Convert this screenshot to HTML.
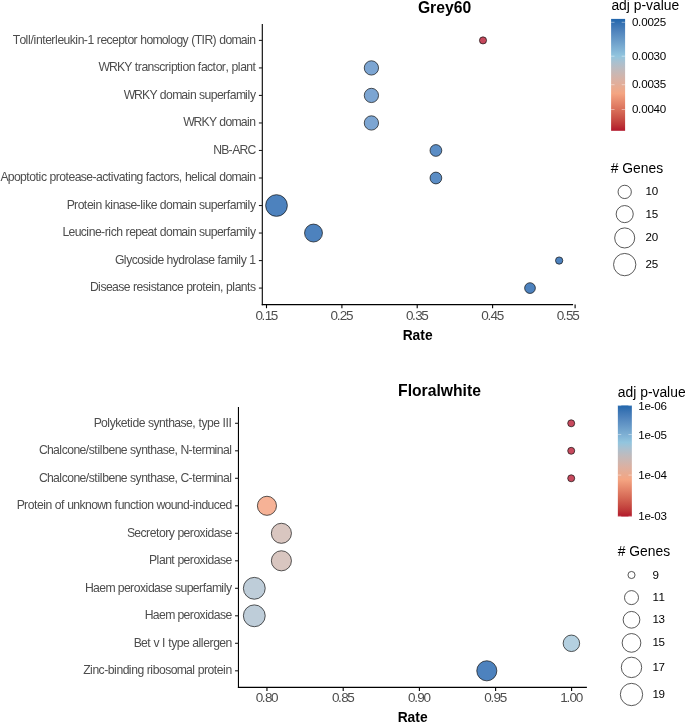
<!DOCTYPE html>
<html><head><meta charset="utf-8"><title>Enrichment dot plots</title>
<style>
html,body{margin:0;padding:0;background:#fff;}
svg{display:block;font-family:"Liberation Sans",sans-serif;}
</style></head><body>
<svg width="685" height="723" viewBox="0 0 685 723">
<rect width="685" height="723" fill="#fff"/>
<text x="417.88 430.09 436.20 444.93 453.66 462.39" y="12.6" font-size="15.7" font-weight="bold" fill="#000">Grey60</text>
<line x1="262.3" y1="24.0" x2="262.3" y2="305.150" stroke="#000" stroke-width="1.1"/>
<line x1="258.900" y1="40.4" x2="262.3" y2="40.4" stroke="#222" stroke-width="1.1"/>
<text x="12.74 19.48 25.61 28.07 30.52 33.58 36.03 42.17 45.23 51.36 55.04 57.49 63.62 69.76 75.27 77.72 83.86 87.53 93.66 96.73 100.40 106.54 112.05 118.19 124.32 127.38 133.52 137.19 140.26 146.39 152.52 161.71 167.85 170.30 176.43 182.57 188.08 191.15 194.82 201.56 204.62 212.59 216.26 219.32 225.46 231.59 240.78 246.92 249.37" y="43.6" font-size="12.2" fill="#4d4d4d">Toll/interleukin-1 receptor homology (TIR) domain</text>
<line x1="258.900" y1="67.92" x2="262.3" y2="67.92" stroke="#222" stroke-width="1.1"/>
<text x="98.57 108.98 116.95 124.30 131.66 134.72 137.79 141.46 147.60 153.73 159.25 164.76 168.43 170.88 177.02 180.08 182.53 188.67 194.80 197.87 200.93 207.07 212.58 215.65 221.78 225.45 228.52 231.58 237.72 240.17 246.30 252.44" y="71.12" font-size="12.2" fill="#4d4d4d">WRKY transcription factor, plant</text>
<line x1="258.900" y1="95.44" x2="262.3" y2="95.44" stroke="#222" stroke-width="1.1"/>
<text x="123.71 134.12 142.09 149.44 156.80 159.87 166.00 172.13 181.32 187.46 189.91 196.04 199.11 204.62 210.76 216.89 223.02 226.70 229.76 235.90 245.08 247.53 249.98" y="98.64" font-size="12.2" fill="#4d4d4d">WRKY domain superfamily</text>
<line x1="258.900" y1="122.960" x2="262.3" y2="122.960" stroke="#222" stroke-width="1.1"/>
<text x="183.17 193.58 201.55 208.90 216.26 219.32 225.46 231.59 240.78 246.92 249.37" y="126.160" font-size="12.2" fill="#4d4d4d">WRKY domain</text>
<line x1="258.900" y1="150.48" x2="262.3" y2="150.48" stroke="#222" stroke-width="1.1"/>
<text x="213.22 221.18 228.54 232.21 239.57 247.53" y="153.679" font-size="12.2" fill="#4d4d4d">NB-ARC</text>
<line x1="258.900" y1="178.0" x2="262.3" y2="178.0" stroke="#222" stroke-width="1.1"/>
<text x="0.45 7.80 13.94 20.07 26.21 29.27 35.41 38.47 40.92 46.44 49.50 55.64 59.31 65.44 68.51 74.64 80.78 86.29 92.43 96.10 102.23 107.75 110.81 113.26 118.78 124.91 127.98 130.43 136.56 142.70 145.76 148.82 154.96 160.47 163.54 169.67 173.35 178.86 181.93 184.99 191.12 197.26 199.71 202.16 207.67 213.81 216.26 219.32 225.46 231.59 240.78 246.92 249.37" y="181.2" font-size="12.2" fill="#4d4d4d">Apoptotic protease-activating factors, helical domain</text>
<line x1="258.900" y1="205.52" x2="262.3" y2="205.52" stroke="#222" stroke-width="1.1"/>
<text x="66.68 74.04 77.71 83.85 86.91 93.04 95.49 101.63 104.69 110.21 112.66 118.79 124.93 130.44 136.58 140.25 142.70 145.15 150.67 156.80 159.87 166.00 172.13 181.32 187.46 189.91 196.04 199.11 204.62 210.76 216.89 223.02 226.70 229.76 235.90 245.08 247.53 249.98" y="208.72" font-size="12.2" fill="#4d4d4d">Protein kinase-like domain superfamily</text>
<line x1="258.900" y1="233.04" x2="262.3" y2="233.04" stroke="#222" stroke-width="1.1"/>
<text x="62.38 68.51 74.65 80.78 86.30 88.75 94.88 101.02 104.69 108.36 110.81 116.33 122.46 125.53 129.20 135.33 141.47 147.60 153.74 156.80 159.87 166.00 172.13 181.32 187.46 189.91 196.04 199.11 204.62 210.76 216.89 223.02 226.70 229.76 235.90 245.08 247.53 249.98" y="236.239" font-size="12.2" fill="#4d4d4d">Leucine-rich repeat domain superfamily</text>
<line x1="258.900" y1="260.56" x2="262.3" y2="260.56" stroke="#222" stroke-width="1.1"/>
<text x="115.12 123.69 126.15 131.66 137.18 143.31 148.82 151.28 157.41 163.54 166.61 172.74 178.26 184.39 188.07 194.20 196.65 202.78 208.30 214.43 217.50 220.56 226.70 235.89 238.34 240.79 246.30 249.37" y="263.76" font-size="12.2" fill="#4d4d4d">Glycoside hydrolase family 1</text>
<line x1="258.900" y1="288.08" x2="262.3" y2="288.08" stroke="#222" stroke-width="1.1"/>
<text x="89.96 97.93 100.38 105.89 112.03 118.16 123.68 129.81 132.88 136.55 142.68 148.20 150.65 156.17 159.23 165.36 171.50 177.01 183.15 186.21 192.35 196.02 202.15 205.22 211.35 213.80 219.94 223.00 226.07 232.20 234.65 240.79 246.92 249.98" y="291.28" font-size="12.2" fill="#4d4d4d">Disease resistance protein, plants</text>
<line x1="261.75" y1="304.6" x2="573.1" y2="304.6" stroke="#000" stroke-width="1.1"/>
<line x1="266.5" y1="304.6" x2="266.5" y2="308.200" stroke="#000" stroke-width="1.1"/>
<text x="255.40 261.57 264.66 270.83" y="319.8" font-size="13.5" fill="#4d4d4d">0.15</text>
<line x1="341.9" y1="304.6" x2="341.9" y2="308.200" stroke="#000" stroke-width="1.1"/>
<text x="330.60 336.77 339.86 346.03" y="319.8" font-size="13.5" fill="#4d4d4d">0.25</text>
<line x1="417.2" y1="304.6" x2="417.2" y2="308.200" stroke="#000" stroke-width="1.1"/>
<text x="405.90 412.07 415.16 421.33" y="319.8" font-size="13.5" fill="#4d4d4d">0.35</text>
<line x1="492.6" y1="304.6" x2="492.6" y2="308.200" stroke="#000" stroke-width="1.1"/>
<text x="481.30 487.47 490.56 496.73" y="319.8" font-size="13.5" fill="#4d4d4d">0.45</text>
<line x1="575.1" y1="304.6" x2="575.1" y2="308.200" stroke="#000" stroke-width="1.1"/>
<text x="556.70 562.87 565.96 572.13" y="319.8" font-size="13.5" fill="#4d4d4d">0.55</text>
<text x="402.64 412.61 420.29 424.88" y="339.85" font-size="13.8" font-weight="bold" fill="#000">Rate</text>
<circle cx="483.0" cy="40.4" r="3.55" fill="#C6485C" stroke="#111" stroke-width="0.7"/>
<circle cx="371.4" cy="67.92" r="7.15" fill="#7CA5D2" stroke="#111" stroke-width="0.7"/>
<circle cx="371.4" cy="95.44" r="7.15" fill="#7CA5D2" stroke="#111" stroke-width="0.7"/>
<circle cx="371.4" cy="122.960" r="7.15" fill="#7CA5D2" stroke="#111" stroke-width="0.7"/>
<circle cx="435.9" cy="150.48" r="5.88" fill="#5B8DC5" stroke="#111" stroke-width="0.7"/>
<circle cx="435.9" cy="178.0" r="5.88" fill="#5B8DC5" stroke="#111" stroke-width="0.7"/>
<circle cx="276.5" cy="205.52" r="10.85" fill="#4D82BE" stroke="#111" stroke-width="0.7"/>
<circle cx="313.5" cy="233.04" r="8.95" fill="#4D82BE" stroke="#111" stroke-width="0.7"/>
<circle cx="559.15" cy="260.56" r="3.65" fill="#4D82BE" stroke="#111" stroke-width="0.7"/>
<circle cx="530.0" cy="288.08" r="5.37" fill="#4D82BE" stroke="#111" stroke-width="0.7"/>
<defs><linearGradient id="g18" x1="0" y1="0" x2="0" y2="1">
<stop offset="0.000" stop-color="#2166ac"/>
<stop offset="0.055" stop-color="#3b75b4"/>
<stop offset="0.111" stop-color="#5084bd"/>
<stop offset="0.166" stop-color="#6194c5"/>
<stop offset="0.222" stop-color="#72a4cd"/>
<stop offset="0.277" stop-color="#82b4d6"/>
<stop offset="0.333" stop-color="#92c5de"/>
<stop offset="0.388" stop-color="#aac0cf"/>
<stop offset="0.444" stop-color="#bdbbbf"/>
<stop offset="0.500" stop-color="#cdb6b0"/>
<stop offset="0.555" stop-color="#dcb0a1"/>
<stop offset="0.611" stop-color="#e8ab91"/>
<stop offset="0.666" stop-color="#f4a582"/>
<stop offset="0.722" stop-color="#ea9072"/>
<stop offset="0.777" stop-color="#e07c63"/>
<stop offset="0.833" stop-color="#d56754"/>
<stop offset="0.888" stop-color="#ca5146"/>
<stop offset="0.944" stop-color="#be3838"/>
<stop offset="1.000" stop-color="#b2182b"/>
</linearGradient></defs>
<rect x="611.1" y="18.9" width="14.0" height="111.9" fill="url(#g18)"/>
<line x1="611.1" y1="22.3" x2="614.5" y2="22.3" stroke="#fff" stroke-opacity="0.55" stroke-width="0.8"/>
<line x1="621.7" y1="22.3" x2="625.1" y2="22.3" stroke="#fff" stroke-opacity="0.55" stroke-width="0.8"/>
<text x="631.95 638.12 641.21 647.38 653.55 659.73" y="25.8" font-size="11.6" fill="#000">0.0025</text>
<line x1="611.1" y1="56.2" x2="614.5" y2="56.2" stroke="#fff" stroke-opacity="0.55" stroke-width="0.8"/>
<line x1="621.7" y1="56.2" x2="625.1" y2="56.2" stroke="#fff" stroke-opacity="0.55" stroke-width="0.8"/>
<text x="631.95 638.12 641.21 647.38 653.55 659.73" y="59.7" font-size="11.6" fill="#000">0.0030</text>
<line x1="611.1" y1="84.7" x2="614.5" y2="84.7" stroke="#fff" stroke-opacity="0.55" stroke-width="0.8"/>
<line x1="621.7" y1="84.7" x2="625.1" y2="84.7" stroke="#fff" stroke-opacity="0.55" stroke-width="0.8"/>
<text x="631.95 638.12 641.21 647.38 653.55 659.73" y="88.2" font-size="11.6" fill="#000">0.0035</text>
<line x1="611.1" y1="109.5" x2="614.5" y2="109.5" stroke="#fff" stroke-opacity="0.55" stroke-width="0.8"/>
<line x1="621.7" y1="109.5" x2="625.1" y2="109.5" stroke="#fff" stroke-opacity="0.55" stroke-width="0.8"/>
<text x="631.95 638.12 641.21 647.38 653.55 659.73" y="113.0" font-size="11.6" fill="#000">0.0040</text>
<text x="611.40 619.10 626.81 629.88 633.73 641.43 646.05 652.97 660.67 663.75 671.45" y="10.3" font-size="13.85" fill="#000">adj p-value</text>
<text x="610.80 618.50 622.35 633.12 640.83 648.53 656.23" y="172.6" font-size="13.85" fill="#000"># Genes</text>
<circle cx="624.7" cy="191.9" r="6.65" fill="none" stroke="#222" stroke-width="0.75"/>
<text x="645.60 651.77" y="195.1" font-size="11.6" fill="#000">10</text>
<circle cx="624.7" cy="214.1" r="8.55" fill="none" stroke="#222" stroke-width="0.75"/>
<text x="645.60 651.77" y="218.0" font-size="11.6" fill="#000">15</text>
<circle cx="624.7" cy="237.95" r="10.030" fill="none" stroke="#222" stroke-width="0.75"/>
<text x="645.60 651.77" y="241.1" font-size="11.6" fill="#000">20</text>
<circle cx="624.7" cy="264.6" r="11.15" fill="none" stroke="#222" stroke-width="0.75"/>
<text x="645.60 651.77" y="268.0" font-size="11.6" fill="#000">25</text>
<text x="398.07 407.66 412.02 421.61 427.72 436.45 440.81 453.02 462.61 466.98 472.20" y="396.0" font-size="15.7" font-weight="bold" fill="#000">Floralwhite</text>
<line x1="238.45" y1="406.9" x2="238.45" y2="687.949" stroke="#000" stroke-width="1.1"/>
<line x1="235.049" y1="423.3" x2="238.45" y2="423.3" stroke="#222" stroke-width="1.1"/>
<text x="93.69 101.08 107.24 109.71 115.25 120.79 126.95 130.03 132.49 138.65 144.81 147.89 153.43 158.97 165.13 168.21 174.37 180.53 186.07 192.24 195.32 198.39 201.47 207.01 213.17 219.34 222.41 225.49 228.57" y="426.5" font-size="12.2" fill="#4d4d4d">Polyketide synthase, type III</text>
<line x1="235.049" y1="450.8" x2="238.45" y2="450.8" stroke="#222" stroke-width="1.1"/>
<text x="38.89 46.89 53.05 59.21 61.67 67.21 73.38 79.54 85.70 88.78 94.32 97.40 99.86 102.32 108.48 114.64 120.81 126.97 130.05 135.59 141.13 147.29 150.37 156.53 162.69 168.23 174.39 177.47 180.55 188.55 192.24 195.32 201.48 205.17 214.40 216.86 223.03 229.19" y="454.0" font-size="12.2" fill="#4d4d4d">Chalcone/stilbene synthase, N-terminal</text>
<line x1="235.049" y1="478.3" x2="238.45" y2="478.3" stroke="#222" stroke-width="1.1"/>
<text x="38.89 46.89 53.05 59.21 61.67 67.21 73.38 79.54 85.70 88.78 94.32 97.40 99.86 102.32 108.48 114.64 120.81 126.97 130.05 135.59 141.13 147.29 150.37 156.53 162.69 168.23 174.39 177.47 180.55 188.55 192.24 195.32 201.48 205.17 214.40 216.86 223.03 229.19" y="481.5" font-size="12.2" fill="#4d4d4d">Chalcone/stilbene synthase, C-terminal</text>
<line x1="235.049" y1="505.8" x2="238.45" y2="505.8" stroke="#222" stroke-width="1.1"/>
<text x="16.68 24.07 27.76 33.92 37.00 43.16 45.62 51.78 54.86 61.02 64.10 67.18 73.34 79.51 85.05 91.21 97.37 105.37 111.53 114.61 117.69 123.85 130.01 135.55 138.63 141.09 147.26 153.42 156.50 164.50 170.66 176.82 182.99 189.15 192.84 195.30 201.46 207.62 213.79 219.33 225.49" y="509.0" font-size="12.2" fill="#4d4d4d">Protein of unknown function wound-induced</text>
<line x1="235.049" y1="533.3" x2="238.45" y2="533.3" stroke="#222" stroke-width="1.1"/>
<text x="126.95 134.34 140.51 146.05 149.73 155.90 158.98 165.14 168.83 174.37 177.45 183.61 189.77 193.46 199.62 205.16 207.62 213.79 219.95 225.49" y="536.5" font-size="12.2" fill="#4d4d4d">Secretory peroxidase</text>
<line x1="235.049" y1="560.8" x2="238.45" y2="560.8" stroke="#222" stroke-width="1.1"/>
<text x="149.11 156.50 158.96 165.13 171.29 174.37 177.45 183.61 189.77 193.46 199.62 205.16 207.62 213.79 219.95 225.49" y="564.0" font-size="12.2" fill="#4d4d4d">Plant peroxidase</text>
<line x1="235.049" y1="588.3" x2="238.45" y2="588.3" stroke="#222" stroke-width="1.1"/>
<text x="85.08 93.09 99.25 105.41 114.64 117.72 123.88 130.04 133.73 139.89 145.43 147.90 154.06 160.22 165.76 171.92 175.00 180.54 186.70 192.86 199.03 202.72 205.79 211.96 221.19 223.65 226.11" y="591.5" font-size="12.2" fill="#4d4d4d">Haem peroxidase superfamily</text>
<line x1="235.049" y1="615.8" x2="238.45" y2="615.8" stroke="#222" stroke-width="1.1"/>
<text x="144.81 152.81 158.98 165.14 174.37 177.45 183.61 189.77 193.46 199.62 205.16 207.62 213.79 219.95 225.49" y="619.0" font-size="12.2" fill="#4d4d4d">Haem peroxidase</text>
<line x1="235.049" y1="643.3" x2="238.45" y2="643.3" stroke="#222" stroke-width="1.1"/>
<text x="133.72 141.11 147.27 150.35 153.43 158.97 162.05 165.13 168.21 171.28 176.82 182.99 189.15 192.23 198.39 200.85 203.31 209.47 213.16 219.33 225.49" y="646.5" font-size="12.2" fill="#4d4d4d">Bet v I type allergen</text>
<line x1="235.049" y1="670.8" x2="238.45" y2="670.8" stroke="#222" stroke-width="1.1"/>
<text x="83.23 90.00 92.46 98.62 104.16 107.85 114.01 116.47 122.64 128.80 131.26 137.42 143.58 146.66 150.35 152.81 158.98 165.14 170.68 176.84 186.07 192.23 194.69 197.77 203.93 207.62 213.79 216.86 223.03 225.49" y="674.0" font-size="12.2" fill="#4d4d4d">Zinc-binding ribosomal protein</text>
<line x1="237.899" y1="687.4" x2="586.9" y2="687.4" stroke="#000" stroke-width="1.1"/>
<line x1="266.95" y1="687.4" x2="266.95" y2="691.0" stroke="#000" stroke-width="1.1"/>
<text x="255.65 261.82 264.91 271.08" y="702.25" font-size="13.5" fill="#4d4d4d">0.80</text>
<line x1="343.2" y1="687.4" x2="343.2" y2="691.0" stroke="#000" stroke-width="1.1"/>
<text x="331.90 338.07 341.16 347.33" y="702.25" font-size="13.5" fill="#4d4d4d">0.85</text>
<line x1="419.4" y1="687.4" x2="419.4" y2="691.0" stroke="#000" stroke-width="1.1"/>
<text x="408.10 414.27 417.36 423.53" y="702.25" font-size="13.5" fill="#4d4d4d">0.90</text>
<line x1="495.6" y1="687.4" x2="495.6" y2="691.0" stroke="#000" stroke-width="1.1"/>
<text x="484.30 490.47 493.56 499.73" y="702.25" font-size="13.5" fill="#4d4d4d">0.95</text>
<line x1="571.6" y1="687.4" x2="571.6" y2="691.0" stroke="#000" stroke-width="1.1"/>
<text x="560.30 566.47 569.56 575.73" y="702.25" font-size="13.5" fill="#4d4d4d">1.00</text>
<text x="397.64 407.61 415.29 419.88" y="721.9" font-size="13.8" font-weight="bold" fill="#000">Rate</text>
<circle cx="571.2" cy="423.3" r="3.50" fill="#C84A5E" stroke="#111" stroke-width="0.7"/>
<circle cx="571.2" cy="450.8" r="3.50" fill="#C84A5E" stroke="#111" stroke-width="0.7"/>
<circle cx="571.2" cy="478.3" r="3.50" fill="#C84A5E" stroke="#111" stroke-width="0.7"/>
<circle cx="266.95" cy="505.8" r="9.55" fill="#F6B296" stroke="#111" stroke-width="0.7"/>
<circle cx="281.4" cy="533.3" r="10.05" fill="#D9C6C0" stroke="#111" stroke-width="0.7"/>
<circle cx="281.4" cy="560.8" r="10.05" fill="#D9C6C0" stroke="#111" stroke-width="0.7"/>
<circle cx="254.3" cy="588.3" r="10.92" fill="#BECDD9" stroke="#111" stroke-width="0.7"/>
<circle cx="254.3" cy="615.8" r="10.92" fill="#BECDD9" stroke="#111" stroke-width="0.7"/>
<circle cx="571.4" cy="643.3" r="8.25" fill="#B4D0E0" stroke="#111" stroke-width="0.7"/>
<circle cx="486.8" cy="670.8" r="10.05" fill="#4D82BE" stroke="#111" stroke-width="0.7"/>
<defs><linearGradient id="g405" x1="0" y1="0" x2="0" y2="1">
<stop offset="0.000" stop-color="#2166ac"/>
<stop offset="0.055" stop-color="#3b75b4"/>
<stop offset="0.111" stop-color="#5084bd"/>
<stop offset="0.166" stop-color="#6194c5"/>
<stop offset="0.222" stop-color="#72a4cd"/>
<stop offset="0.277" stop-color="#82b4d6"/>
<stop offset="0.333" stop-color="#92c5de"/>
<stop offset="0.388" stop-color="#aac0cf"/>
<stop offset="0.444" stop-color="#bdbbbf"/>
<stop offset="0.500" stop-color="#cdb6b0"/>
<stop offset="0.555" stop-color="#dcb0a1"/>
<stop offset="0.611" stop-color="#e8ab91"/>
<stop offset="0.666" stop-color="#f4a582"/>
<stop offset="0.722" stop-color="#ea9072"/>
<stop offset="0.777" stop-color="#e07c63"/>
<stop offset="0.833" stop-color="#d56754"/>
<stop offset="0.888" stop-color="#ca5146"/>
<stop offset="0.944" stop-color="#be3838"/>
<stop offset="1.000" stop-color="#b2182b"/>
</linearGradient></defs>
<rect x="617.85" y="405.4" width="14.0" height="111.2" fill="url(#g405)"/>
<line x1="617.85" y1="405.6" x2="621.25" y2="405.6" stroke="#fff" stroke-opacity="0.55" stroke-width="0.8"/>
<line x1="628.45" y1="405.6" x2="631.85" y2="405.6" stroke="#fff" stroke-opacity="0.55" stroke-width="0.8"/>
<text x="638.25 644.42 650.60 654.29 660.47" y="409.700" font-size="11.6" fill="#000">1e-06</text>
<line x1="617.85" y1="434.55" x2="621.25" y2="434.55" stroke="#fff" stroke-opacity="0.55" stroke-width="0.8"/>
<line x1="628.45" y1="434.55" x2="631.85" y2="434.55" stroke="#fff" stroke-opacity="0.55" stroke-width="0.8"/>
<text x="638.25 644.42 650.60 654.29 660.47" y="438.650" font-size="11.6" fill="#000">1e-05</text>
<line x1="617.85" y1="475.1" x2="621.25" y2="475.1" stroke="#fff" stroke-opacity="0.55" stroke-width="0.8"/>
<line x1="628.45" y1="475.1" x2="631.85" y2="475.1" stroke="#fff" stroke-opacity="0.55" stroke-width="0.8"/>
<text x="638.25 644.42 650.60 654.29 660.47" y="479.200" font-size="11.6" fill="#000">1e-04</text>
<line x1="617.85" y1="516.3" x2="621.25" y2="516.3" stroke="#fff" stroke-opacity="0.55" stroke-width="0.8"/>
<line x1="628.45" y1="516.3" x2="631.85" y2="516.3" stroke="#fff" stroke-opacity="0.55" stroke-width="0.8"/>
<text x="638.25 644.42 650.60 654.29 660.47" y="520.4" font-size="11.6" fill="#000">1e-03</text>
<text x="617.85 625.55 633.26 636.33 640.18 647.88 652.50 659.42 667.12 670.20 677.90" y="396.6" font-size="13.85" fill="#000">adj p-value</text>
<text x="617.70 625.40 629.25 640.02 647.73 655.43 663.13" y="555.6" font-size="13.85" fill="#000"># Genes</text>
<circle cx="631.5" cy="575.0" r="3.55" fill="none" stroke="#222" stroke-width="0.75"/>
<text x="652.40" y="578.8" font-size="11.6" fill="#000">9</text>
<circle cx="631.5" cy="597.6" r="7.0" fill="none" stroke="#222" stroke-width="0.75"/>
<text x="652.40 658.57" y="601.2" font-size="11.6" fill="#000">11</text>
<circle cx="631.5" cy="619.8" r="8.35" fill="none" stroke="#222" stroke-width="0.75"/>
<text x="652.40 658.57" y="623.3" font-size="11.6" fill="#000">13</text>
<circle cx="631.5" cy="642.9" r="9.35" fill="none" stroke="#222" stroke-width="0.75"/>
<text x="652.40 658.57" y="646.25" font-size="11.6" fill="#000">15</text>
<circle cx="631.5" cy="667.4" r="10.200" fill="none" stroke="#222" stroke-width="0.75"/>
<text x="652.40 658.57" y="671.1" font-size="11.6" fill="#000">17</text>
<circle cx="631.5" cy="694.5" r="11.15" fill="none" stroke="#222" stroke-width="0.75"/>
<text x="652.40 658.57" y="698.1" font-size="11.6" fill="#000">19</text>
</svg>
</body></html>
